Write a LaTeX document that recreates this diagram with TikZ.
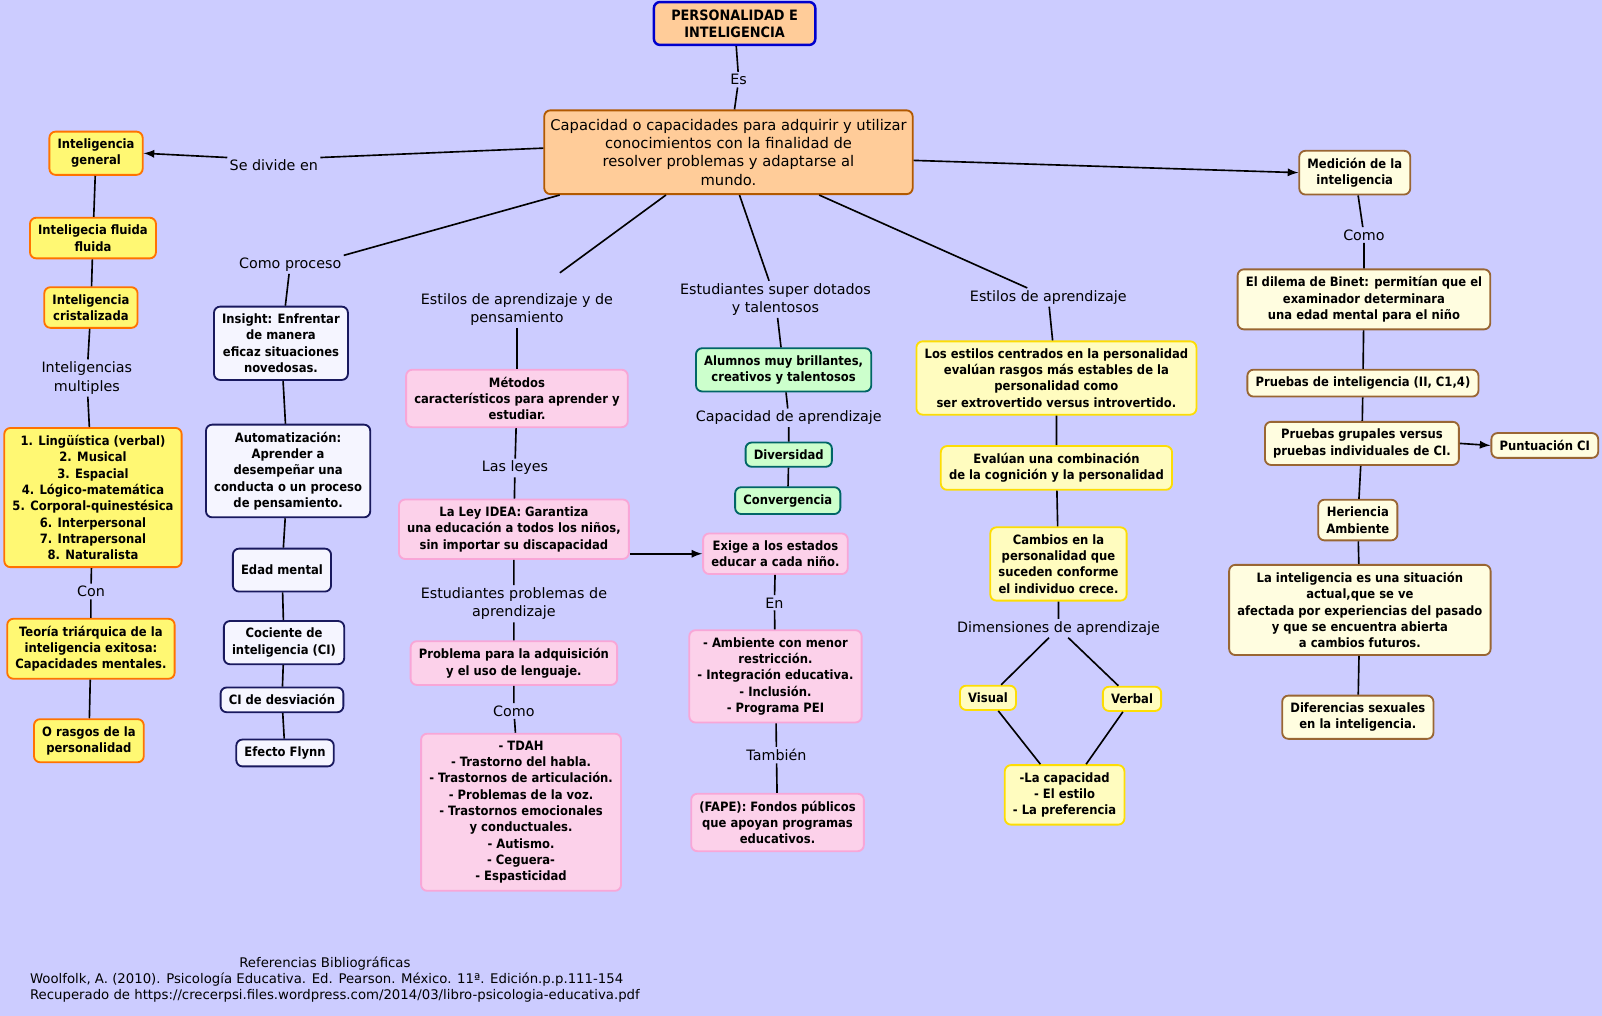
\documentclass[tikz,border=0pt]{standalone}
\usepackage{fontspec}
\setmainfont{DejaVu Sans}
\newfontfamily\cond{DejaVu Sans Condensed}
\begin{document}
\begin{tikzpicture}[x=0.5pt,y=-0.5pt,
 bx/.style={draw,rounded corners=3pt,line width=0.9pt,align=center,inner xsep=4pt,inner ysep=3.5pt,font=\cond\bfseries\fontsize{6.3}{8}\selectfont},
 lb/.style={align=center,inner sep=1pt,font=\fontsize{7}{9}\selectfont},
 yel/.style={bx,fill=yellow!55!white,draw=orange!90!red},
 blu/.style={bx,fill=blue!4!white,draw=blue!30!black!90},
 pnk/.style={bx,fill=magenta!18!white,draw=magenta!35!white},
 grn/.style={bx,fill=green!20!white,draw=teal!80!black},
 lye/.style={bx,fill=yellow!25!white,draw=yellow!80!orange},
 brn/.style={bx,fill=yellow!12!white,draw=brown!80!black},
 ln/.style={draw,line width=0.8pt},
 ar/.style={ln,-latex}]
\fill[blue!20!white] (0,0) rectangle (1568,994);
\useasboundingbox (0,0) rectangle (1568,994);
% top
\node[bx,fill=orange!40!white,draw=blue!80!black,line width=1.2pt,minimum width=79pt,minimum height=21pt,font=\cond\bfseries\fontsize{7}{8.3}\selectfont] (t) at (719,23) {PERSONALIDAD E\\INTELIGENCIA};
\node[lb] (es) at (723,78) {Es};
\node[bx,fill=orange!40!white,draw=orange!70!black,font=\fontsize{7.2}{9}\selectfont,minimum width=178pt,minimum height=41pt,inner sep=3pt] (c) at (713,149) {Capacidad o capacidades para adquirir y utilizar\\conocimientos con la finalidad de\\resolver problemas y adaptarse al\\mundo.};
\draw[ln] (t) -- (es) -- (c);
% col1
\node[lb] (sd) at (268,162) {Se divide en};
\node[yel] (g) at (94,150) {Inteligencia\\general};
\node[yel] (f) at (91,233) {Inteligecia fluida\\fluida};
\node[yel] (cr) at (89,301) {Inteligencia\\cristalizada};
\node[lb] (im) at (85,370) {Inteligencias\\multiples};
\node[yel] (li) at (91,487) {1. Lingüística (verbal)\\2. Musical\\3. Espacial\\4. Lógico-matemática\\5. Corporal-quinestésica\\6. Interpersonal\\7. Intrapersonal\\8. Naturalista};
\node[lb] (con) at (89,579) {Con};
\node[yel] (te) at (89,635) {Teoría triárquica de la\\inteligencia exitosa:\\Capacidades mentales.};
\node[yel] (or) at (87,725) {O rasgos de la\\personalidad};
\draw[ln] ([yshift=2pt]c.west) -- (sd.north east);
\draw[ar] (sd.north west) -- (g.east);
\draw[ln] (g) -- (f) -- (cr) -- (im) -- (li) -- (con) -- (te) -- (or);
% col2
\node[lb] (cp) at (284,259) {Como proceso};
\node[blu] (in) at (275,336) {Insight: Enfrentar\\de manera\\eficaz situaciones\\novedosas.};
\node[blu] (au) at (282,461) {Automatización:\\Aprender a\\desempeñar una\\conducta o un proceso\\de pensamiento.};
\node[blu,minimum width=48pt,minimum height=21pt] (em) at (276,558) {Edad mental};
\node[blu] (ci) at (278,629) {Cociente de\\inteligencia (CI)};
\node[blu] (cd) at (276,685) {CI de desviación};
\node[blu] (ef) at (279,737) {Efecto Flynn};
\draw[ln] ([xshift=8pt]c.south west) -- (cp.north east);
\draw[ln] (cp) -- (in) -- (au) -- (em) -- (ci) -- (cd) -- (ef);
% col3
\node[lb] (ea) at (506,303) {Estilos de aprendizaje y de\\pensamiento};
\node[pnk] (me) at (506,390) {Métodos\\característicos para aprender y\\estudiar.};
\node[lb] (ll) at (504,458) {Las leyes};
\node[pnk] (ley) at (503,518) {La Ley IDEA: Garantiza\\una educación a todos los niños,\\sin importar su discapacidad};
\node[lb] (ep) at (503,591) {Estudiantes problemas de\\aprendizaje};
\node[pnk] (pr) at (503,649) {Problema para la adquisición\\y el uso de lenguaje.};
\node[lb] (co3) at (503,696) {Como};
\node[pnk] (td) at (510,795) {- TDAH\\- Trastorno del habla.\\- Trastornos de articulación.\\- Problemas de la voz.\\- Trastornos emocionales\\y conductuales.\\- Autismo.\\- Ceguera-\\- Espasticidad};
\draw[ln] ([xshift=60pt]c.south west) -- (548,267);
\draw[ln] (ea) -- (me) -- (ll) -- (ley) -- (ep) -- (pr) -- (co3) -- (td);
% col4
\node[lb] (su) at (759,293) {Estudiantes super dotados\\y talentosos};
\node[grn] (al) at (767,362) {Alumnos muy brillantes,\\creativos y talentosos};
\node[lb] (ca) at (772,409) {Capacidad de aprendizaje};
\node[grn] (di) at (772,445) {Diversidad};
\node[grn] (cv) at (771,490) {Convergencia};
\node[pnk] (ex) at (759,542) {Exige a los estados\\educar a cada niño.};
\node[lb] (en) at (758,590) {En};
\node[pnk] (am) at (759,662) {- Ambiente con menor\\restricción.\\- Integración educativa.\\- Inclusión.\\- Programa PEI};
\node[lb] (ta) at (760,739) {También};
\node[pnk] (fa) at (761,805) {(FAPE): Fondos públicos\\que apoyan programas\\educativos.};
\draw[ln] ([xshift=96pt]c.south west) -- (su);
\draw[ln] (su) -- (al) -- (ca) -- (di) -- (cv);
\draw[ar] (ley.east|-ex.west) -- (ex.west);
\draw[ln] (ex) -- (en) -- (am) -- (ta) -- (fa);
% col5
\node[lb] (e5) at (1026,291) {Estilos de aprendizaje};
\node[lye] (le) at (1034,370) {Los estilos centrados en la personalidad\\evalúan rasgos más estables de la\\personalidad como\\ser extrovertido versus introvertido.};
\node[lye] (ev) at (1034,458) {Evalúan una combinación\\de la cognición y la personalidad};
\node[lye] (cb) at (1036,552) {Cambios en la\\personalidad que\\suceden conforme\\el individuo crece.};
\node[lb] (dm) at (1036,615) {Dimensiones de aprendizaje};
\node[lye] (vi) at (967,683) {Visual};
\node[lye] (ve) at (1108,684) {Verbal};
\node[lye] (lc) at (1042,778) {-La capacidad\\- El estilo\\- La preferencia};
\draw[ln] ([xshift=135pt]c.south west) -- (e5);
\draw[ln] (e5) -- (le) -- (ev) -- (cb) -- (dm);
\draw[ln] (dm) -- (vi) -- (lc); \draw[ln] (dm) -- (ve) -- (lc);
% col6
\node[brn] (md) at (1326,169) {Medición de la\\inteligencia};
\node[lb] (cm) at (1335,230) {Como};
\node[brn] (bi) at (1335,293) {El dilema de Binet: permitían que el\\examinador determinara\\una edad mental para el niño};
\node[brn] (pi) at (1334,375) {Pruebas de inteligencia (II, C1,4)};
\node[brn] (pg) at (1333,434) {Pruebas grupales versus\\pruebas individuales de CI.};
\node[brn] (pu) at (1512,436) {Puntuación CI};
\node[brn] (he) at (1329,509) {Heriencia\\Ambiente};
\node[brn] (ie) at (1331,597) {La inteligencia es una situación\\actual,que se ve\\afectada por experiencias del pasado\\y que se encuentra abierta\\a cambios futuros.};
\node[brn] (ds) at (1329,702) {Diferencias sexuales\\en la inteligencia.};
\draw[ar] ([yshift=-4pt]c.east) -- (md.west);
\draw[ln] (md) -- (cm) -- (bi) -- (pi) -- (pg) -- (he) -- (ie) -- (ds);
\draw[ar] (pg.east) -- (pu.west);
% refs
\node[font=\fontsize{6.5}{8}\selectfont,inner sep=0] (rt) at (318,943) {Referencias Bibliográficas};
\node[font=\fontsize{6.5}{8}\selectfont,inner sep=0,anchor=west] (r1) at (29,959) {Woolfolk, A. (2010). Psicología Educativa. Ed. Pearson. México. 11ª. Edición.p.p.111-154};
\node[font=\fontsize{6.5}{8}\selectfont,inner sep=0,anchor=west] (r2) at (29,975) {Recuperado de https://crecerpsi.files.wordpress.com/2014/03/libro-psicologia-educativa.pdf};
\end{tikzpicture}
\end{document}
